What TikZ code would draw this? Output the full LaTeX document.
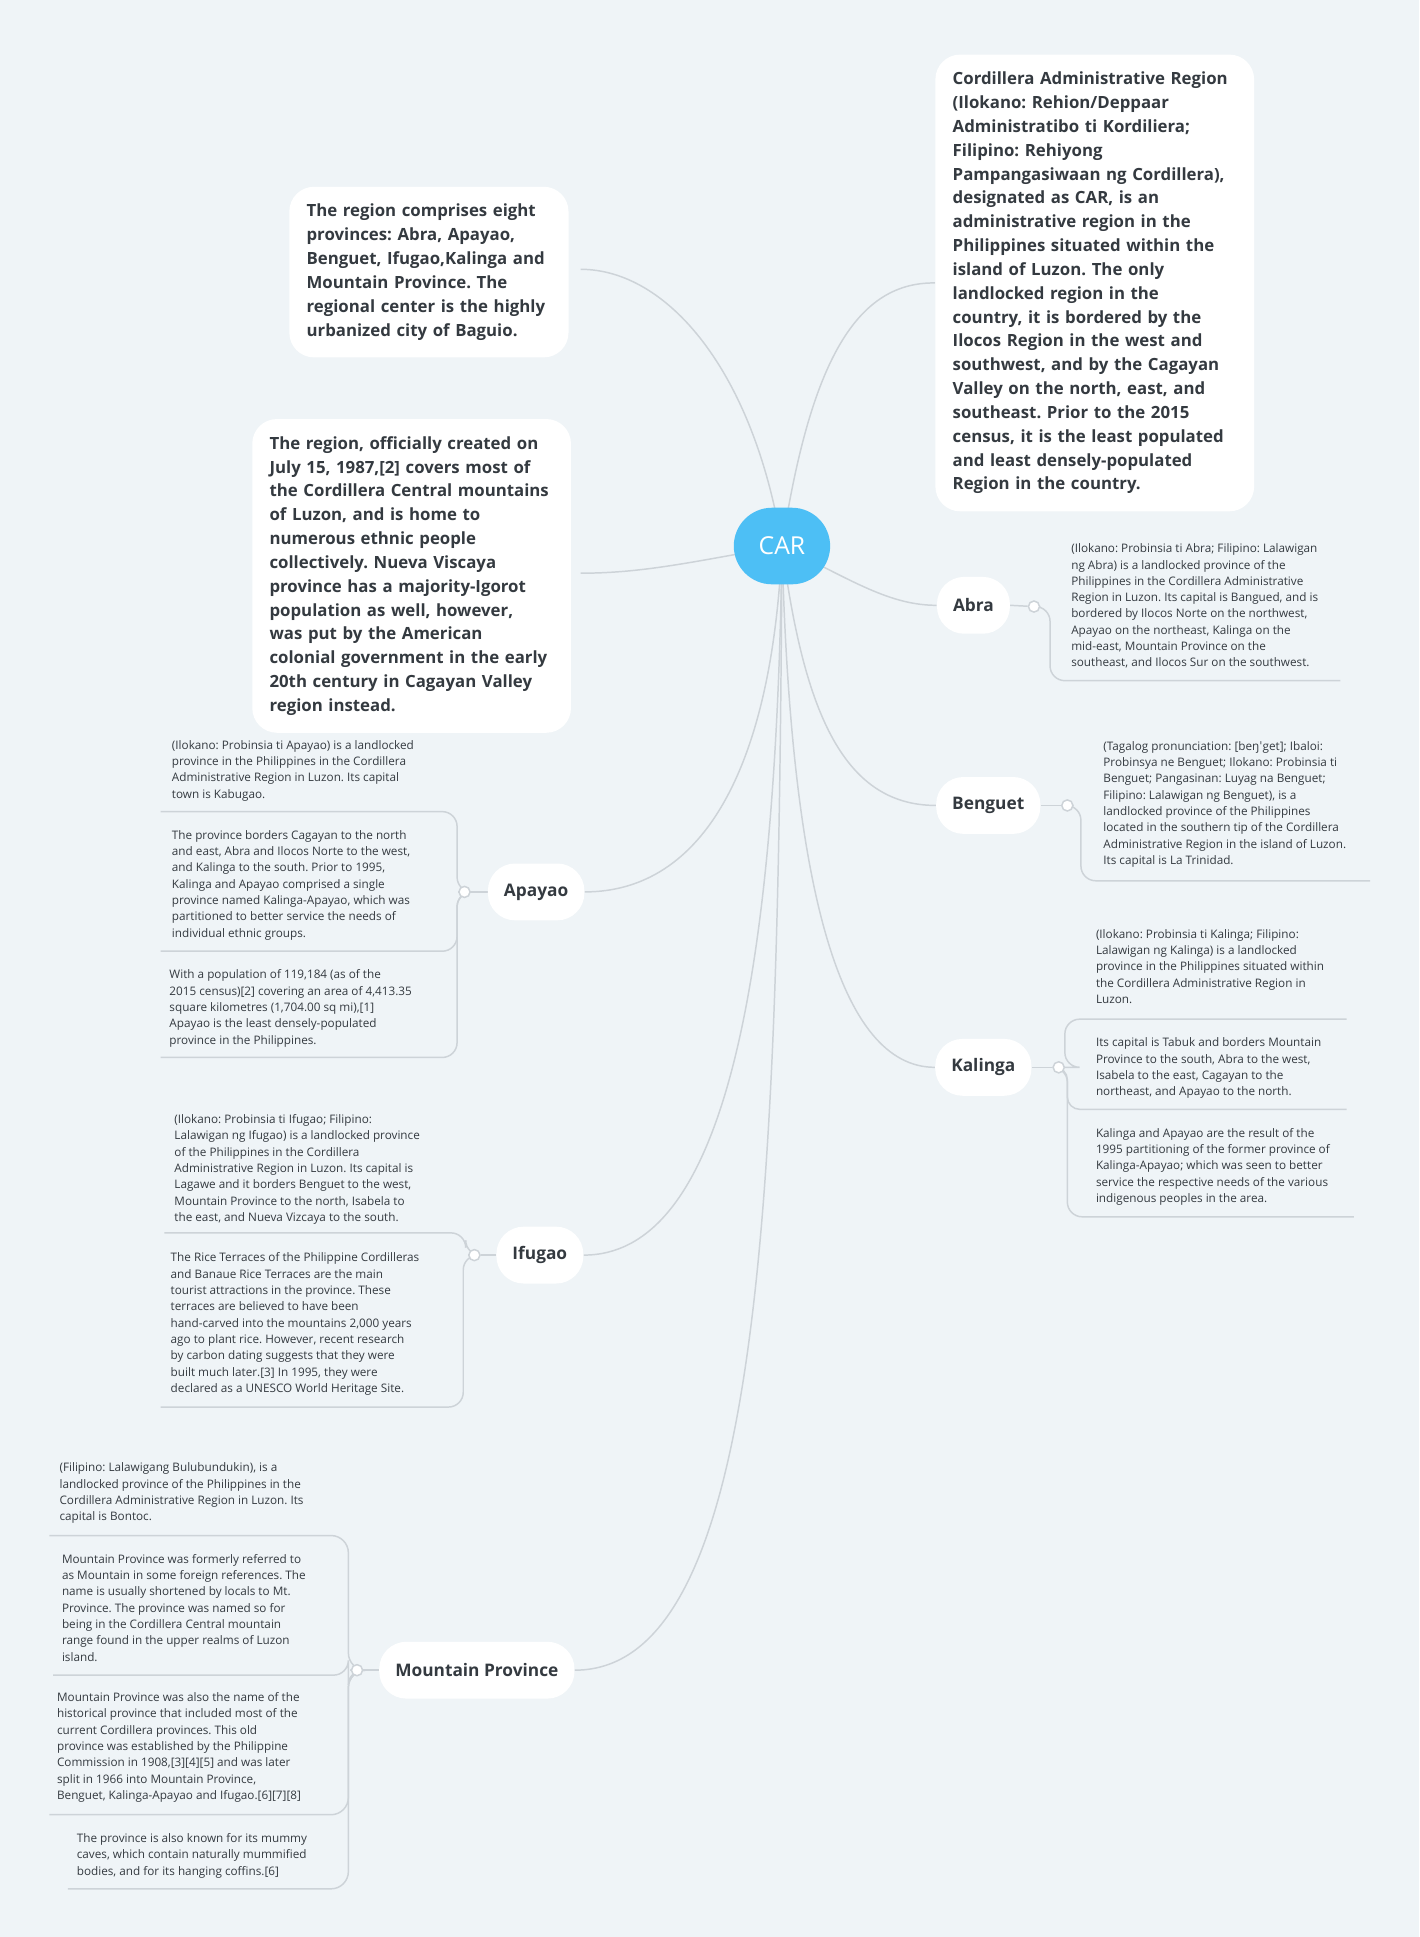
\documentclass[tikz,border=0pt]{standalone}
\usepackage{fontspec}
\setmainfont{Open Sans}
\newfontfamily\djv{DejaVu Sans}
\frenchspacing
\usetikzlibrary{backgrounds}
\definecolor{bg}{HTML}{EFF4F7}
\definecolor{ln}{HTML}{CDD3D8}
\definecolor{tx}{HTML}{343A40}
\definecolor{carc}{HTML}{4DBFF5}
\tikzset{
 big/.style={draw=none,fill=white,rounded corners=20,inner sep=14pt,align=left,anchor=north west,font={\fontsize{13.6}{19.3}\selectfont\bfseries},text=tx},
 topic/.style={fill=white,rounded corners=22,minimum height=46pt,inner xsep=13pt,font={\fontsize{14}{16}\selectfont\bfseries},text=tx},
 leaf/.style={inner sep=0pt,anchor=north west,align=left,font={\fontsize{9.5}{13.2}\selectfont},text=tx},
 con/.style={draw=ln,line width=1.2pt},
 dot/.style={circle,draw=ln,line width=1.2pt,fill=white,inner sep=0pt,minimum size=9pt},
}
\begin{document}
\begin{tikzpicture}[x=1pt,y=-1pt]
\useasboundingbox (0,0) rectangle (1149,1568);
\node[fill=carc,rounded corners=31,minimum width=78pt,minimum height=62pt,text=white,font=\fontsize{20}{22}\selectfont] (car) at (633,442) {CAR};
\node[big,text width=230pt] (r) at (757,44) {Cordillera Administrative Region\\(Ilokano: Rehion/Deppaar\\Administratibo ti Kordiliera;\\Filipino: Rehiyong\\Pampangasiwaan ng Cordillera),\\designated as CAR, is an\\administrative region in the\\Philippines situated within the\\island of Luzon. The only\\landlocked region in the\\country, it is bordered by the\\Ilocos Region in the west and\\southwest, and by the Cagayan\\Valley on the north, east, and\\southeast. Prior to the 2015\\census, it is the least populated\\and least densely-populated\\Region in the country.};
\node[big,text width=198pt] (b1) at (234,151) {The region comprises eight\\provinces: Abra, Apayao,\\Benguet, Ifugao,Kalinga and\\Mountain Province. The\\regional center is the highly\\urbanized city of Baguio.};
\node[big,text width=230pt] (b2) at (204,339) {The region, officially created on\\July 15, 1987,[2] covers most of\\the Cordillera Central mountains\\of Luzon, and is home to\\numerous ethnic people\\collectively. Nueva Viscaya\\province has a majority-Igorot\\population as well, however,\\was put by the American\\colonial government in the early\\20th century in Cagayan Valley\\region instead.};
\node[topic] (abra) at (788,490) {Abra};
\node[topic] (beng) at (800,652) {Benguet};
\node[topic] (kal) at (796,864) {Kalinga};
\node[topic] (apa) at (434,722) {Apayao};
\node[topic] (ifu) at (437,1016) {Ifugao};
\node[topic] (mp) at (386,1352) {Mountain Province};
% leaves
\node[leaf] (a1) at (867,440) {(Ilokano: Probinsia ti Abra; Filipino: Lalawigan\\ng Abra) is a landlocked province of the\\Philippines in the Cordillera Administrative\\Region in Luzon. Its capital is Bangued, and is\\bordered by Ilocos Norte on the northwest,\\Apayao on the northeast, Kalinga on the\\mid-east, Mountain Province on the\\southeast, and Ilocos Sur on the southwest.};
\node[leaf] (be1) at (893,600) {(Tagalog pronunciation: [beŋ{\djv ˈ}get]; Ibaloi:\\Probinsya ne Benguet; Ilokano: Probinsia ti\\Benguet; Pangasinan: Luyag na Benguet;\\Filipino: Lalawigan ng Benguet), is a\\landlocked province of the Philippines\\located in the southern tip of the Cordillera\\Administrative Region in the island of Luzon.\\Its capital is La Trinidad.};
\node[leaf] (k1) at (887,752) {(Ilokano: Probinsia ti Kalinga; Filipino:\\Lalawigan ng Kalinga) is a landlocked\\province in the Philippines situated within\\the Cordillera Administrative Region in\\Luzon.};
\node[leaf] (k2) at (887,840) {Its capital is Tabuk and borders Mountain\\Province to the south, Abra to the west,\\Isabela to the east, Cagayan to the\\northeast, and Apayao to the north.};
\node[leaf] (k3) at (887,913) {Kalinga and Apayao are the result of the\\1995 partitioning of the former province of\\Kalinga-Apayao; which was seen to better\\service the respective needs of the various\\indigenous peoples in the area.};
\node[leaf] (p1) at (139,599) {(Ilokano: Probinsia ti Apayao) is a landlocked\\province in the Philippines in the Cordillera\\Administrative Region in Luzon. Its capital\\town is Kabugao.};
\node[leaf] (p2) at (139,672) {The province borders Cagayan to the north\\and east, Abra and Ilocos Norte to the west,\\and Kalinga to the south. Prior to 1995,\\Kalinga and Apayao comprised a single\\province named Kalinga-Apayao, which was\\partitioned to better service the needs of\\individual ethnic groups.};
\node[leaf] (p3) at (137,785) {With a population of 119,184 (as of the\\2015 census)[2] covering an area of 4,413.35\\square kilometres (1,704.00 sq mi),[1]\\Apayao is the least densely-populated\\province in the Philippines.};
\node[leaf] (f1) at (141,902) {(Ilokano: Probinsia ti Ifugao; Filipino:\\Lalawigan ng Ifugao) is a landlocked province\\of the Philippines in the Cordillera\\Administrative Region in Luzon. Its capital is\\Lagawe and it borders Benguet to the west,\\Mountain Province to the north, Isabela to\\the east, and Nueva Vizcaya to the south.};
\node[leaf] (f2) at (138,1014) {The Rice Terraces of the Philippine Cordilleras\\and Banaue Rice Terraces are the main\\tourist attractions in the province. These\\terraces are believed to have been\\hand-carved into the mountains 2,000 years\\ago to plant rice. However, recent research\\by carbon dating suggests that they were\\built much later.[3] In 1995, they were\\declared as a UNESCO World Heritage Site.};
\node[leaf] (m1) at (48,1184) {(Filipino: Lalawigang Bulubundukin), is a\\landlocked province of the Philippines in the\\Cordillera Administrative Region in Luzon. Its\\capital is Bontoc.};
\node[leaf] (m2) at (50,1258) {Mountain Province was formerly referred to\\as Mountain in some foreign references. The\\name is usually shortened by locals to Mt.\\Province. The province was named so for\\being in the Cordillera Central mountain\\range found in the upper realms of Luzon\\island.};
\node[leaf] (m3) at (46,1370) {Mountain Province was also the name of the\\historical province that included most of the\\current Cordillera provinces. This old\\province was established by the Philippine\\Commission in 1908,[3][4][5] and was later\\split in 1966 into Mountain Province,\\Benguet, Kalinga-Apayao and Ifugao.[6][7][8]};
\node[leaf] (m4) at (62,1484) {The province is also known for its mummy\\caves, which contain naturally mummified\\bodies, and for its hanging coffins.[6]};
% dots
\node[dot] (da) at (837,491) {};
\node[dot] (db) at (864,652) {};
\node[dot] (dk) at (857,864) {};
\node[dot] (dp) at (376,722) {};
\node[dot] (df) at (384,1016) {};
\node[dot] (dm) at (289,1352) {};
\begin{pgfonlayer}{background}
\fill[bg] (0,0) rectangle (1149,1568);
\draw[con] (car.center) .. controls (655,300) and (690,228) .. (r.west);
\draw[con] (car.center) .. controls (610,300) and (540,218) .. (470,218);
\draw[con] (car.center) .. controls (560,455) and (520,464) .. (470,464);
\draw[con] (car.center) .. controls (625,620) and (570,722) .. (apa.east);
\draw[con] (car.center) .. controls (628,820) and (580,1016) .. (ifu.east);
\draw[con] (car.center) .. controls (630,950) and (620,1352) .. (mp.east);
\draw[con] (car.center) .. controls (690,470) and (720,490) .. (abra.west);
\draw[con] (car.center) .. controls (650,570) and (680,652) .. (beng.west);
\draw[con] (car.center) .. controls (640,720) and (680,864) .. (kal.west);
\draw[con] (abra.east) -- (da); \draw[con] (beng.east) -- (db); \draw[con] (kal.east) -- (dk);
\draw[con] (apa.west) -- (dp); \draw[con] (ifu.west) -- (df); \draw[con] (mp.west) -- (dm);
\draw[con,rounded corners=12] (da) -- (850,491) -- (850,551) -- (1085,551);
\draw[con,rounded corners=12] (db) -- (875,652) -- (875,713) -- (1109,713);
\draw[con,rounded corners=12] (dk) -- (862,864) -- (862,825) -- (1090,825);
\draw[con,rounded corners=10] (dk) -- (864,864) -- (864,898) -- (1090,898);
\draw[con,rounded corners=12] (dk) -- (864,864) -- (864,985) -- (1096,985);
\draw[con,rounded corners=12] (dp) -- (370,722) -- (370,657) -- (130,657);
\draw[con,rounded corners=12] (dp) -- (370,722) -- (370,770) -- (130,770);
\draw[con,rounded corners=12] (dp) -- (370,722) -- (370,856) -- (130,856);
\draw[con,rounded corners=12] (df) -- (377,1016) -- (377,998) -- (133,998);
\draw[con,rounded corners=12] (df) -- (375,1016) -- (375,1139) -- (130,1139);
\draw[con,rounded corners=14] (dm) -- (282,1352) -- (282,1243) -- (40,1243);
\draw[con,rounded corners=12] (dm) -- (282,1352) -- (282,1356) -- (43,1356);
\draw[con,rounded corners=14] (dm) -- (282,1352) -- (282,1469) -- (40,1469);
\draw[con,rounded corners=14] (dm) -- (282,1352) -- (282,1529) -- (55,1529);
\end{pgfonlayer}
\end{tikzpicture}
\end{document}
